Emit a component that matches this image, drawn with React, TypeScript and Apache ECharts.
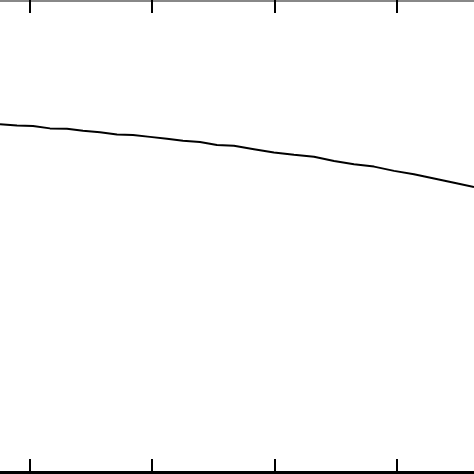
import React, { useEffect, useRef } from 'react';
import * as echarts from 'echarts';

// x positions (axis units, ticks at 1..4) and y values of the curve
const xValues = [
  0.755, 0.894, 1.025, 1.164, 1.303, 1.434, 1.573, 1.712, 1.843, 1.982,
  2.121, 2.252, 2.391, 2.53, 2.669, 2.833, 2.996, 3.16, 3.324, 3.488,
  3.651, 3.815, 3.979, 4.142, 4.306, 4.47, 4.633
];
const yValues = [
  73.7, 73.4, 73.3, 72.8, 72.7, 72.3, 72.0, 71.5, 71.4, 71.0,
  70.6, 70.2, 69.9, 69.3, 69.1, 68.4, 67.7, 67.2, 66.8, 65.9,
  65.2, 64.7, 63.8, 63.1, 62.2, 61.3, 60.4
];
const tickValues = [1, 2, 3, 4];
const xMin = 0.755;
const xMax = 4.633;

const App: React.FC = () => {
  const chartRef = useRef<HTMLDivElement>(null);

  useEffect(() => {
    if (!chartRef.current) return;
    const chart = echarts.init(chartRef.current, undefined, { renderer: 'svg' });

    const xAxisBase = (position: 'top' | 'bottom', lineWidth: number, lineColor: string) => ({
      type: 'value' as const,
      position,
      min: xMin,
      max: xMax,
      axisLine: { show: true, onZero: false, lineStyle: { color: lineColor, width: lineWidth } },
      axisTick: {
        show: true,
        inside: true,
        length: 13,
        customValues: tickValues,
        lineStyle: { color: '#000', width: 2 }
      },
      axisLabel: { show: false },
      splitLine: { show: false }
    });

    chart.setOption({
      animation: false,
      backgroundColor: '#fff',
      grid: { left: 0, right: 0, top: 0, bottom: 2, containLabel: false },
      xAxis: [xAxisBase('bottom', 3, '#000'), xAxisBase('top', 3, '#888')],
      yAxis: {
        type: 'value',
        min: 0,
        max: 100,
        show: false
      },
      series: [
        {
          type: 'line',
          data: xValues.map((x, i) => [x, yValues[i]]),
          showSymbol: false,
          lineStyle: { color: '#000', width: 2 },
          itemStyle: { color: '#000' }
        }
      ]
    });

    return () => {
      chart.dispose();
    };
  }, []);

  return (
    <div
      ref={chartRef}
      style={{ position: 'absolute', left: 0, top: 0, width: '474px', height: '474px' }}
    />
  );
};

export default App;
